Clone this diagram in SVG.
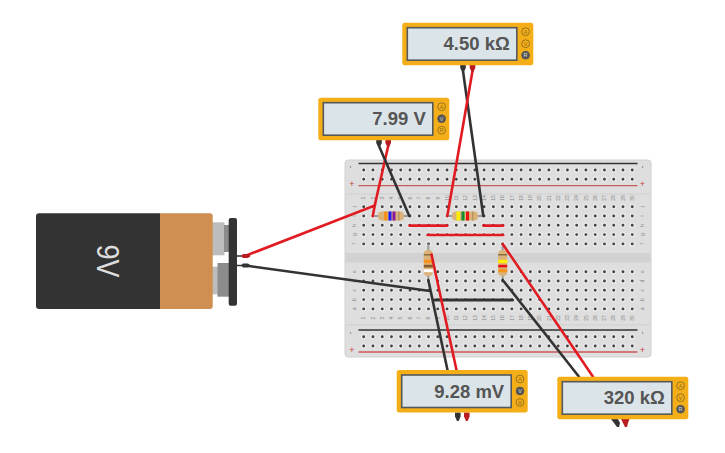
<svg xmlns="http://www.w3.org/2000/svg" xmlns:xlink="http://www.w3.org/1999/xlink" width="725" height="453" viewBox="0 0 725 453">
<style>
text{font-family:"Liberation Sans",Arial,sans-serif}
.halo{stroke:#ebebeb;stroke-width:5.4;stroke-linecap:round;stroke-dasharray:0 9.26;fill:none}
.holes{stroke:#444;stroke-width:2.9;stroke-linecap:round;stroke-dasharray:0 9.26;fill:none}
.num{font-size:5px;fill:#888;text-anchor:middle}
.sign{font-size:9px;fill:#777;text-anchor:middle}
.plus{fill:#c9403f}
.red{stroke:#e01b22;stroke-width:2.6;fill:none;stroke-linecap:round}
.blk{stroke:#333;stroke-width:2.6;fill:none;stroke-linecap:round}
.lead{stroke:#9a9a9a;stroke-width:2;fill:none}
.body{fill:#dab27a}
.case{fill:#f4ae18}
.screen{fill:#dbe4e8;stroke:#55595a;stroke-width:1.6}
.val{font-size:18.5px;font-weight:bold;fill:#555;text-anchor:end}
.btn{fill:none;stroke:#8f6d1f;stroke-width:.9}
.on{fill:#555;stroke:#555}
.bt{font-size:5.500px;fill:#8f6d1f;text-anchor:middle}
.bton{fill:#ddd}
</style>
<defs>
<g id="meter">
<rect width="131" height="42.500" rx="2.500" class="case"/>
<rect x="5" y="5" width="109.500" height="32.500" class="screen"/>
</g>
</defs>
<g id="breadboard">
<rect x="345" y="160" width="306" height="197" rx="3" fill="#dedede" stroke="#d0d0d0"/>
<rect x="345.500" y="253" width="305" height="9.500" fill="#d2d2d2"/>
<path d="M346 194H650M346 325H650" stroke="#cfcfcf" stroke-width="1" fill="none"/>
<path d="M358.500 163.500H637.500M358.500 330H637.500" stroke="#333" stroke-width="1.300"/>
<path d="M358.500 185.600H637.500M358.500 352H637.500" stroke="#c85a58" stroke-width="1.300"/>
<path class="halo" d="M363.700 170H640M363.700 179.200H640M363.700 206.700H640M363.700 216H640M363.700 225.300H640M363.700 234.600H640M363.700 243.900H640M363.700 271.700H640M363.700 281H640M363.700 290.300H640M363.700 299.600H640M363.700 308.900H640M363.700 336.700H640M363.700 346H640"/>
<path class="holes" d="M363.700 170H640M363.700 179.200H640M363.700 206.700H640M363.700 216H640M363.700 225.300H640M363.700 234.600H640M363.700 243.900H640M363.700 271.700H640M363.700 281H640M363.700 290.300H640M363.700 299.600H640M363.700 308.900H640M363.700 336.700H640M363.700 346H640"/>
<g class="sign">
<text transform="translate(352.800 167) rotate(-90)">-</text><text class="plus" x="352" y="186.500">+</text>
<text transform="translate(645 167) rotate(-90)">-</text><text class="plus" x="642.500" y="186.500">+</text>
<text transform="translate(352.800 333) rotate(-90)">-</text><text class="plus" x="352" y="352.500">+</text>
<text transform="translate(645 333) rotate(-90)">-</text><text class="plus" x="642.500" y="352.500">+</text>
</g>
<g class="num">
<text transform="translate(355.500 206.700) rotate(-90)">j</text><text transform="translate(355.500 216) rotate(-90)">i</text><text transform="translate(355.500 225.300) rotate(-90)">h</text><text transform="translate(355.500 234.600) rotate(-90)">g</text><text transform="translate(355.500 243.900) rotate(-90)">f</text>
<text transform="translate(355.500 271.700) rotate(-90)">e</text><text transform="translate(355.500 281) rotate(-90)">d</text><text transform="translate(355.500 290.300) rotate(-90)">c</text><text transform="translate(355.500 299.600) rotate(-90)">b</text><text transform="translate(355.500 308.900) rotate(-90)">a</text>
<text transform="translate(643.500 206.700) rotate(-90)">j</text><text transform="translate(643.500 216) rotate(-90)">i</text><text transform="translate(643.500 225.300) rotate(-90)">h</text><text transform="translate(643.500 234.600) rotate(-90)">g</text><text transform="translate(643.500 243.900) rotate(-90)">f</text>
<text transform="translate(643.500 271.700) rotate(-90)">e</text><text transform="translate(643.500 281) rotate(-90)">d</text><text transform="translate(643.500 290.300) rotate(-90)">c</text><text transform="translate(643.500 299.600) rotate(-90)">b</text><text transform="translate(643.500 308.900) rotate(-90)">a</text>
<text transform="translate(365.400 198) rotate(-90)">1</text><text transform="translate(374.700 198) rotate(-90)">2</text><text transform="translate(383.900 198) rotate(-90)">3</text><text transform="translate(393.200 198) rotate(-90)">4</text><text transform="translate(402.400 198) rotate(-90)">5</text><text transform="translate(411.700 198) rotate(-90)">6</text><text transform="translate(421 198) rotate(-90)">7</text><text transform="translate(430.200 198) rotate(-90)">8</text><text transform="translate(439.500 198) rotate(-90)">9</text><text transform="translate(448.700 198) rotate(-90)">10</text><text transform="translate(458 198) rotate(-90)">11</text><text transform="translate(467.300 198) rotate(-90)">12</text><text transform="translate(476.500 198) rotate(-90)">13</text><text transform="translate(485.800 198) rotate(-90)">14</text><text transform="translate(495 198) rotate(-90)">15</text><text transform="translate(504.300 198) rotate(-90)">16</text><text transform="translate(513.600 198) rotate(-90)">17</text><text transform="translate(522.800 198) rotate(-90)">18</text><text transform="translate(532.100 198) rotate(-90)">19</text><text transform="translate(541.300 198) rotate(-90)">20</text><text transform="translate(550.600 198) rotate(-90)">21</text><text transform="translate(559.900 198) rotate(-90)">22</text><text transform="translate(569.100 198) rotate(-90)">23</text><text transform="translate(578.400 198) rotate(-90)">24</text><text transform="translate(587.600 198) rotate(-90)">25</text><text transform="translate(596.900 198) rotate(-90)">26</text><text transform="translate(606.200 198) rotate(-90)">27</text><text transform="translate(615.400 198) rotate(-90)">28</text><text transform="translate(624.700 198) rotate(-90)">29</text><text transform="translate(633.900 198) rotate(-90)">30</text>
<text transform="translate(365.400 318) rotate(-90)">1</text><text transform="translate(374.700 318) rotate(-90)">2</text><text transform="translate(383.900 318) rotate(-90)">3</text><text transform="translate(393.200 318) rotate(-90)">4</text><text transform="translate(402.400 318) rotate(-90)">5</text><text transform="translate(411.700 318) rotate(-90)">6</text><text transform="translate(421 318) rotate(-90)">7</text><text transform="translate(430.200 318) rotate(-90)">8</text><text transform="translate(439.500 318) rotate(-90)">9</text><text transform="translate(448.700 318) rotate(-90)">10</text><text transform="translate(458 318) rotate(-90)">11</text><text transform="translate(467.300 318) rotate(-90)">12</text><text transform="translate(476.500 318) rotate(-90)">13</text><text transform="translate(485.800 318) rotate(-90)">14</text><text transform="translate(495 318) rotate(-90)">15</text><text transform="translate(504.300 318) rotate(-90)">16</text><text transform="translate(513.600 318) rotate(-90)">17</text><text transform="translate(522.800 318) rotate(-90)">18</text><text transform="translate(532.100 318) rotate(-90)">19</text><text transform="translate(541.300 318) rotate(-90)">20</text><text transform="translate(550.600 318) rotate(-90)">21</text><text transform="translate(559.900 318) rotate(-90)">22</text><text transform="translate(569.100 318) rotate(-90)">23</text><text transform="translate(578.400 318) rotate(-90)">24</text><text transform="translate(587.600 318) rotate(-90)">25</text><text transform="translate(596.900 318) rotate(-90)">26</text><text transform="translate(606.200 318) rotate(-90)">27</text><text transform="translate(615.400 318) rotate(-90)">28</text><text transform="translate(624.700 318) rotate(-90)">29</text><text transform="translate(633.900 318) rotate(-90)">30</text>
</g>
</g>
<g id="battery">
<rect x="212" y="222.300" width="12.500" height="33" fill="#bdbdbd"/>
<rect x="224" y="225" width="5" height="27" fill="#8c8c8c"/>
<rect x="212" y="266.700" width="6" height="27.600" fill="#bdbdbd"/>
<rect x="217.500" y="263" width="12" height="33.700" fill="#8c8c8c"/>
<path d="M160 213.300H210a2.700 2.700 0 0 1 2.700 2.700V306.300a2.700 2.700 0 0 1-2.700 2.700H160Z" fill="#d08f52"/>
<path d="M160 213.300H39a3 3 0 0 0-3 3V306a3 3 0 0 0 3 3H160Z" fill="#333"/>
<rect x="228.700" y="218" width="8.300" height="87.700" rx="2" fill="#333"/>
<text transform="translate(97 261) rotate(90) scale(.9 1.07)" font-size="30" fill="#ddd" text-anchor="middle">9V</text>
</g>
<g id="resistor-1">
<path class="lead" d="M373 216H409"/>
<rect class="body" x="378" y="211.500" width="26" height="9" rx="4"/>
<path d="M384 211.500h3.500v9H384z" fill="#f7931e"/><path d="M388.500 211.500h3v9h-3z" fill="#1a1aff"/><path d="M392.500 211.500h3v9h-3z" fill="#8a1a9a"/><path d="M398 211.500h1.500v9H398z" fill="#b8955a"/>
</g>
<g id="resistor-2">
<path class="lead" d="M447 216H483"/>
<rect class="body" x="452" y="211.500" width="26" height="9" rx="4"/>
<path d="M456.500 211.500h3.500v9h-3.500z" fill="#ffee00"/><path d="M461.500 211.500h3v9h-3z" fill="#12912a"/><path d="M466 211.500h3v9h-3z" fill="#ee1111"/><path d="M472 211.500h1.500v9H472z" fill="#b8955a"/>
</g>
<g id="resistor-3">
<path class="lead" d="M428.300 244V280"/>
<rect class="body" x="423.800" y="250" width="9" height="26" rx="4"/>
<path d="M423.800 254h9v1.500h-9z" fill="#8a7040"/><path d="M423.800 259.800h9v3.400h-9z" fill="#f7931e"/><path d="M423.800 264.800h9v2.600h-9z" fill="#8b5a2b"/><path d="M423.800 269.200h9v3h-9z" fill="#fff"/>
</g>
<g id="resistor-4">
<path class="lead" d="M502.700 244V280"/>
<rect class="body" x="498.200" y="250" width="9" height="26" rx="4"/>
<path d="M498.200 254h9v1.500h-9z" fill="#8a7040"/><path d="M498.200 259.800h9v3.400h-9z" fill="#ffee00"/><path d="M498.200 264.800h9v2.600h-9z" fill="#ee1111"/><path d="M498.200 269.200h9v3h-9z" fill="#f7931e"/>
</g>
<g id="connectors">
<path class="red" d="M409.500 225.600H447.300M483.300 225.600H503.300M427.500 235H503.300"/>
<path class="blk" style="stroke-width:3.200" d="M434.500 300H512.500"/>
<path class="blk" d="M245 265.500L430 291"/>
<path class="blk" d="M428.300 280L447.500 370"/>
<path class="red" d="M431.500 254.500L456.500 370"/>
<path class="blk" d="M502.700 280L579 376.700"/>
<path class="red" d="M502.700 244L593 376.700"/>
<path class="red" d="M245 256L374.700 205.500L372.800 216"/>
<path class="red" d="M388.200 146L374.700 205.500"/>
<path class="blk" d="M379 146L409.300 216"/>
<path class="blk" d="M463 71L483.300 216"/>
<path class="red" d="M472.500 71L447.300 216"/>
<path d="M237 256H250M237 265.500H250" stroke="#333" stroke-width="1.500"/>
<path d="M243 253.900h5l2.500 2.100l-2.500 2.100h-5l-2-2.100z" fill="#b81d22"/>
<path d="M243 263.400h5l2.500 2.100l-2.500 2.100h-5l-2-2.100z" fill="#333"/>
<path d="M460.200 65h5.600v3l-2 4h-1.600l-2-4z" fill="#333"/>
<path d="M469.700 65h5.600v3l-2 4h-1.600l-2-4z" fill="#b81d22"/>
<path d="M376.200 140h5.600v3l-2 4h-1.600l-2-4z" fill="#333"/>
<path d="M385.400 140h5.600v3l-2 4h-1.600l-2-4z" fill="#b81d22"/>
<path d="M455 412.500h5.600v4l-2 4.500h-1.600l-2-4.500z" fill="#333"/>
<path d="M464 412.500h5.600v4l-2 4.500h-1.600l-2-4.500z" fill="#b81d22"/>
<path d="M611 419h7l2 4l-1 4h-2z" fill="#333"/>
<path d="M621 419h8.500l-1.500 4l-1 4h-2z" fill="#b81d22"/>
</g>
<g id="meter-resistance-top" transform="translate(402.300 22.700)">
<use href="#meter" xlink:href="#meter"/>
<text class="val" x="107.500" y="27.500">4.50 kΩ</text>
<circle class="btn" cx="123.300" cy="9" r="3.900"/><text class="bt" x="123.300" y="11">A</text>
<circle class="btn" cx="123.300" cy="21" r="3.900"/><text class="bt" x="123.300" y="23">V</text>
<circle class="btn on" cx="123.300" cy="32.500" r="3.900"/><text class="bt bton" x="123.300" y="34.500">R</text>
</g>
<g id="meter-voltage-top" transform="translate(318.300 97.700)">
<use href="#meter" xlink:href="#meter"/>
<text class="val" x="107.500" y="27.500">7.99 V</text>
<circle class="btn" cx="123.300" cy="9" r="3.900"/><text class="bt" x="123.300" y="11">A</text>
<circle class="btn on" cx="123.300" cy="21" r="3.900"/><text class="bt bton" x="123.300" y="23">V</text>
<circle class="btn" cx="123.300" cy="32.500" r="3.900"/><text class="bt" x="123.300" y="34.500">R</text>
</g>
<g id="meter-voltage-bottom" transform="translate(396.700 370)">
<use href="#meter" xlink:href="#meter"/>
<text class="val" x="107.500" y="27.500">9.28 mV</text>
<circle class="btn" cx="123.300" cy="9" r="3.900"/><text class="bt" x="123.300" y="11">A</text>
<circle class="btn on" cx="123.300" cy="21" r="3.900"/><text class="bt bton" x="123.300" y="23">V</text>
<circle class="btn" cx="123.300" cy="32.500" r="3.900"/><text class="bt" x="123.300" y="34.500">R</text>
</g>
<g id="meter-resistance-bottom" transform="translate(557.300 376.700)">
<use href="#meter" xlink:href="#meter"/>
<text class="val" x="107.500" y="27.500">320 kΩ</text>
<circle class="btn" cx="123.300" cy="9" r="3.900"/><text class="bt" x="123.300" y="11">A</text>
<circle class="btn" cx="123.300" cy="21" r="3.900"/><text class="bt" x="123.300" y="23">V</text>
<circle class="btn on" cx="123.300" cy="32.500" r="3.900"/><text class="bt bton" x="123.300" y="34.500">R</text>
</g>
</svg>
